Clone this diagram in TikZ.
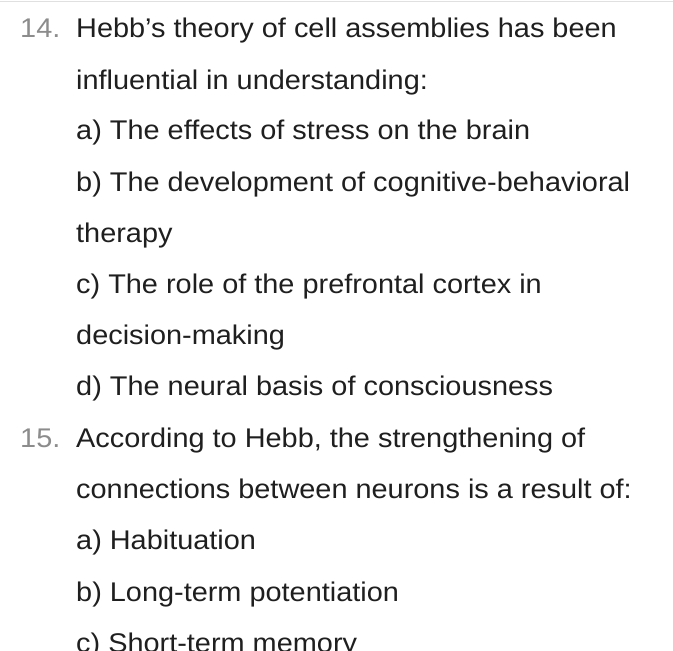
\documentclass[tikz,border=0pt]{standalone}
\usepackage{fontspec}
\setmainfont{Liberation Sans}[FakeStretch=1.07]
\begin{document}
\begin{tikzpicture}[x=1pt,y=1pt,
  txt/.style={anchor=base west,inner sep=0pt,font=\fontsize{27}{30}\selectfont,text=black!88},
  num/.style={txt,text=black!45}]
\useasboundingbox (0,0) rectangle (673,-651);
\clip (0,0) rectangle (673,-651);
\fill[white] (0,0) rectangle (673,-651);
\draw[black!12,line width=1pt] (0,-1) -- (673,-1);
\node[num] (n14) at (20,-37) {14.};
\node[txt] (l1) at (76,-37) {Hebb{\char"27}s theory of cell assemblies has been};
\node[txt] (l2) at (76,-89) {influential in understanding:};
\node[txt] (l3) at (76,-139) {a) The effects of stress on the brain};
\node[txt] (l4) at (76,-191) {b) The development of cognitive-behavioral};
\node[txt] (l5) at (76,-242) {therapy};
\node[txt] (l6) at (76,-293) {c) The role of the prefrontal cortex in};
\node[txt] (l7) at (76,-344) {decision-making};
\node[txt] (l8) at (76,-395) {d) The neural basis of consciousness};
\node[num] (n15) at (20,-447) {15.};
\node[txt] (l9) at (76,-447) {According to Hebb, the strengthening of};
\node[txt] (l10) at (76,-498) {connections between neurons is a result of:};
\node[txt] (l11) at (76,-549) {a) Habituation};
\node[txt] (l12) at (76,-601) {b) Long-term potentiation};
\node[txt] (l13) at (76,-652) {c) Short-term memory};
\end{tikzpicture}
\end{document}
